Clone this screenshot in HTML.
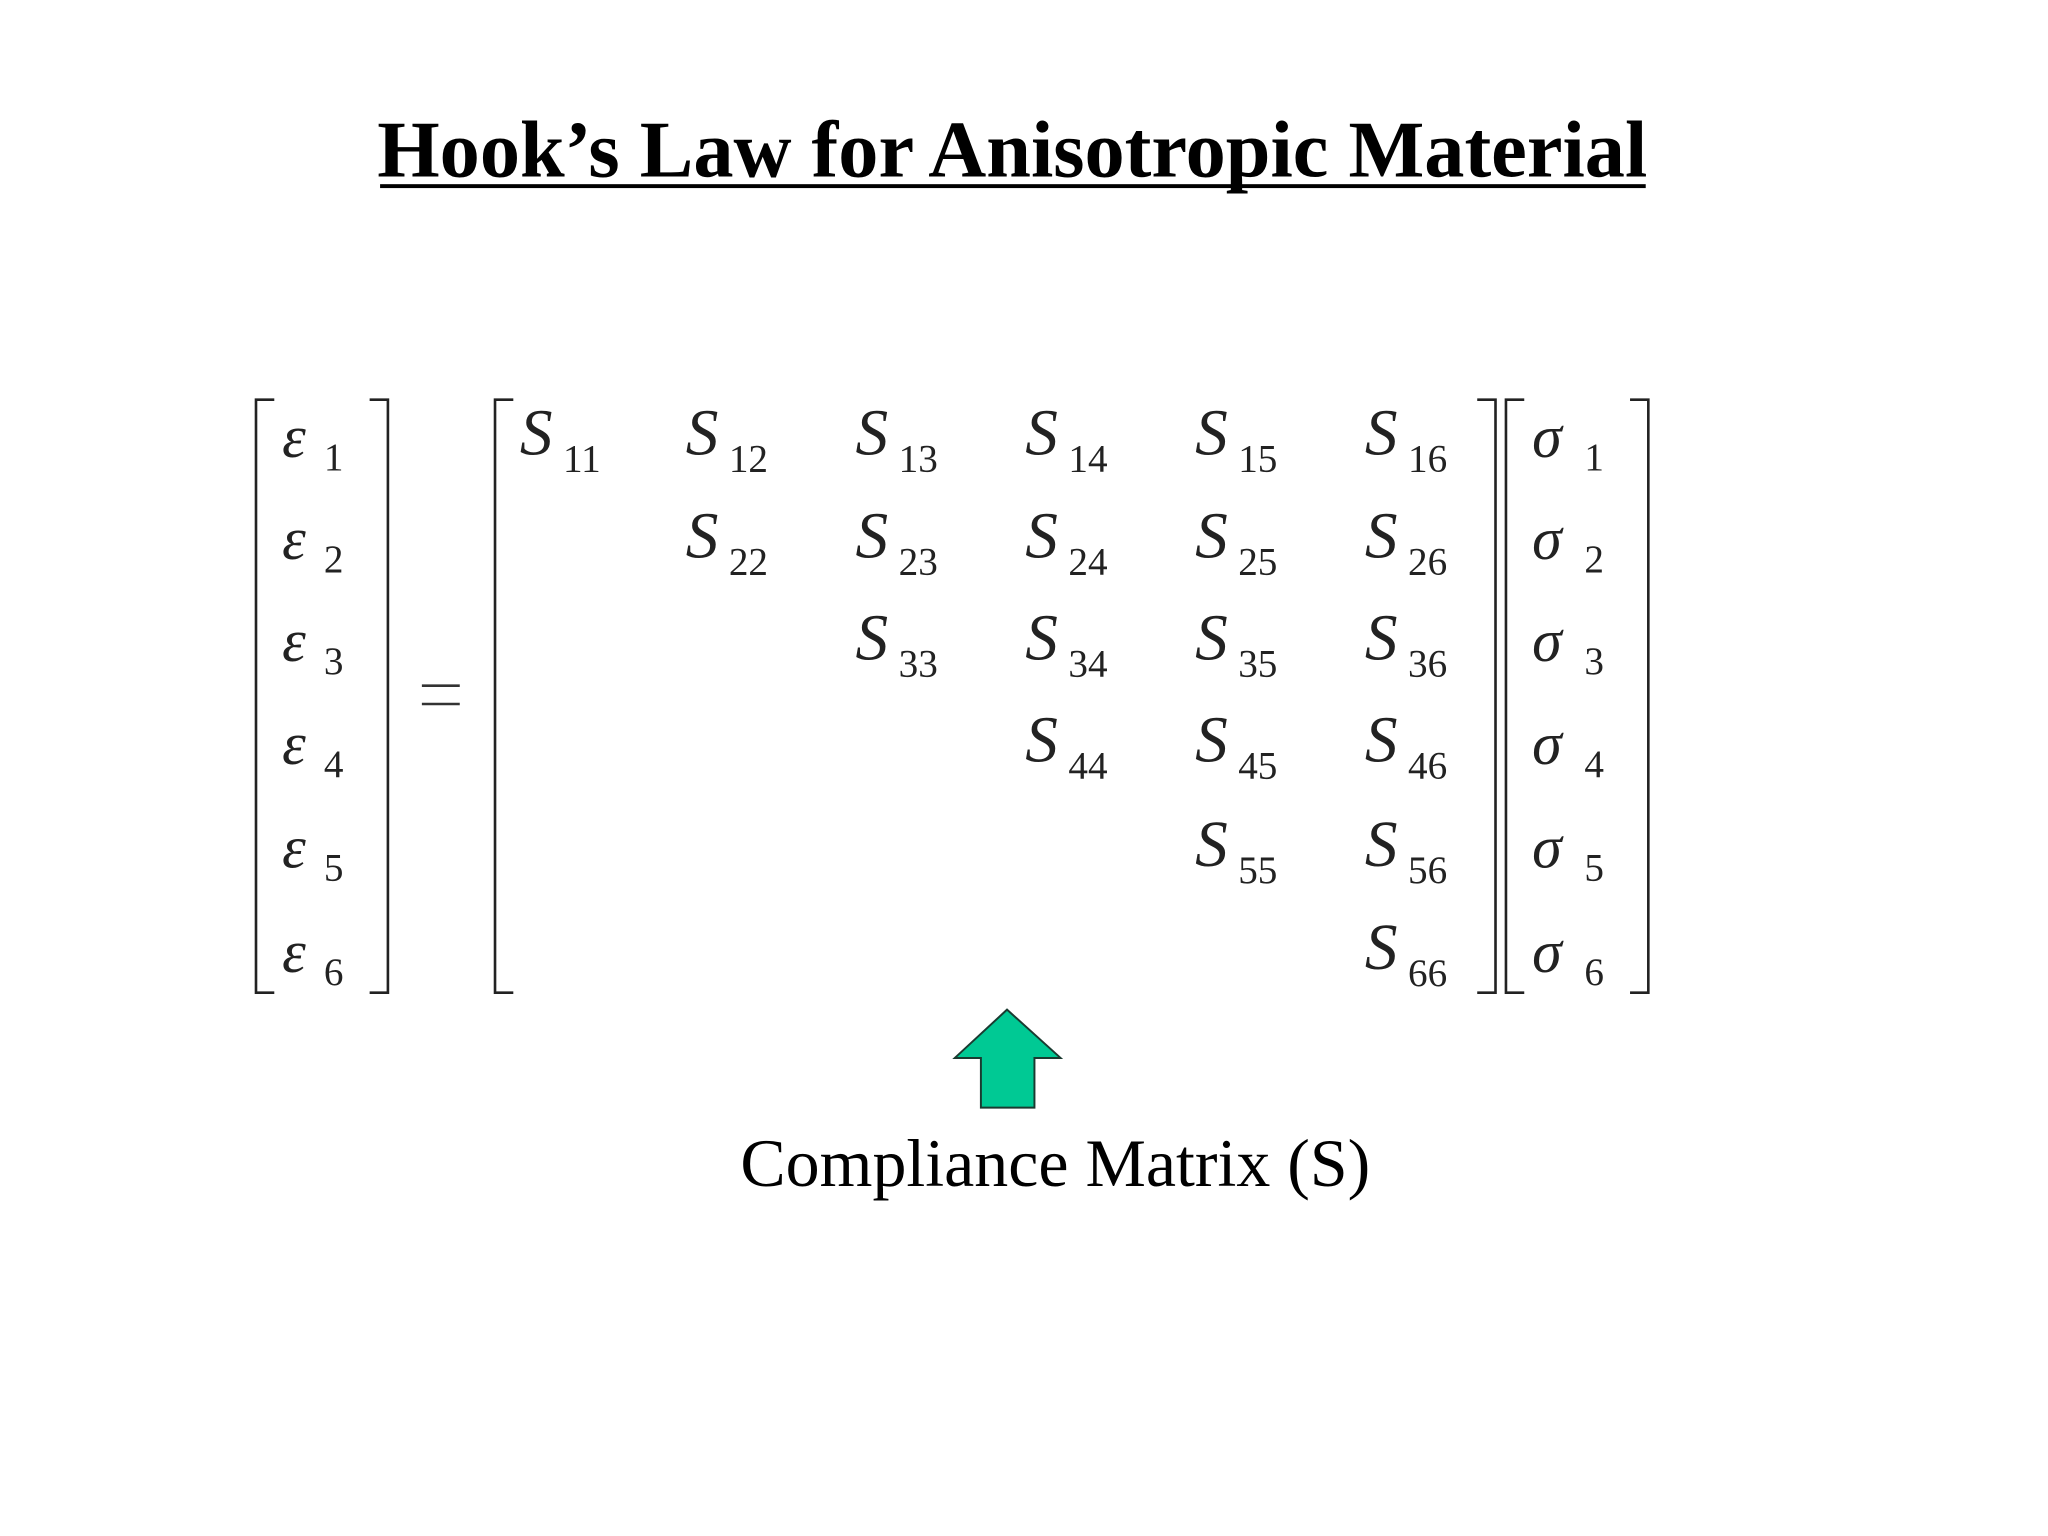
<!DOCTYPE html>
<html><head><meta charset="utf-8"><style>
html,body{margin:0;padding:0;background:#fff;}
svg{display:block}
</style></head><body>
<svg width="2048" height="1536" viewBox="0 0 1568 1176" xmlns="http://www.w3.org/2000/svg">
<rect width="1568" height="1176" fill="#fff"/>
<text x="775" y="135" text-anchor="middle" font-family="Liberation Serif, serif" font-weight="bold" font-size="61.5" fill="#000">Hook’s Law for Anisotropic Material</text>
<rect x="291" y="141" width="969" height="3" fill="#000"/>
<g stroke="#222" stroke-width="2" fill="none">
<path d="M210 306 H196 V760 H210"/>
<path d="M283 306 H297 V760 H283"/>
<path d="M393 306 H379 V760 H393"/>
<path d="M1131 306 H1145 V760 H1131"/>
<path d="M1167 306 H1153 V760 H1167"/>
<path d="M1248 306 H1262 V760 H1248"/>
</g>
<g stroke="#333" stroke-width="2">
<line x1="323" y1="525" x2="352" y2="525"/>
<line x1="323" y1="539" x2="352" y2="539"/>
</g>
<g font-family="Liberation Serif, serif" fill="#222">
<g font-style="italic" font-size="46">
<text x="216" y="350">ε</text><text x="216" y="428">ε</text><text x="216" y="506">ε</text>
<text x="216" y="585">ε</text><text x="216" y="664">ε</text><text x="216" y="744">ε</text>
<text x="1173" y="350">σ</text><text x="1173" y="428">σ</text><text x="1173" y="506">σ</text>
<text x="1173" y="585">σ</text><text x="1173" y="664">σ</text><text x="1173" y="744">σ</text>
</g>
<g font-size="30">
<text x="248" y="360">1</text><text x="248" y="438">2</text><text x="248" y="516">3</text>
<text x="248" y="595">4</text><text x="248" y="674">5</text><text x="248" y="754">6</text>
<text x="1213" y="360">1</text><text x="1213" y="438">2</text><text x="1213" y="516">3</text>
<text x="1213" y="595">4</text><text x="1213" y="674">5</text><text x="1213" y="754">6</text>
</g>
<g font-style="italic" font-size="50">
<text x="398" y="348">S</text><text x="525" y="348">S</text><text x="655" y="348">S</text><text x="785" y="348">S</text><text x="915" y="348">S</text><text x="1045" y="348">S</text>
<text x="525" y="427">S</text><text x="655" y="427">S</text><text x="785" y="427">S</text><text x="915" y="427">S</text><text x="1045" y="427">S</text>
<text x="655" y="505">S</text><text x="785" y="505">S</text><text x="915" y="505">S</text><text x="1045" y="505">S</text>
<text x="785" y="583">S</text><text x="915" y="583">S</text><text x="1045" y="583">S</text>
<text x="915" y="663">S</text><text x="1045" y="663">S</text>
<text x="1045" y="742">S</text>
</g>
<g font-size="30">
<text x="431" y="361">11</text><text x="558" y="361">12</text><text x="688" y="361">13</text><text x="818" y="361">14</text><text x="948" y="361">15</text><text x="1078" y="361">16</text>
<text x="558" y="440">22</text><text x="688" y="440">23</text><text x="818" y="440">24</text><text x="948" y="440">25</text><text x="1078" y="440">26</text>
<text x="688" y="518">33</text><text x="818" y="518">34</text><text x="948" y="518">35</text><text x="1078" y="518">36</text>
<text x="818" y="596">44</text><text x="948" y="596">45</text><text x="1078" y="596">46</text>
<text x="948" y="676">55</text><text x="1078" y="676">56</text>
<text x="1078" y="755">66</text>
</g>
</g>
<polygon points="771,773 812,810 792,810 792,848 751,848 751,810 731,810" fill="#00C994" stroke="#1a3a30" stroke-width="1.5"/>
<text x="808" y="908" text-anchor="middle" font-family="Liberation Serif, serif" font-size="52" fill="#000">Compliance Matrix (S)</text>
</svg>
</body></html>
